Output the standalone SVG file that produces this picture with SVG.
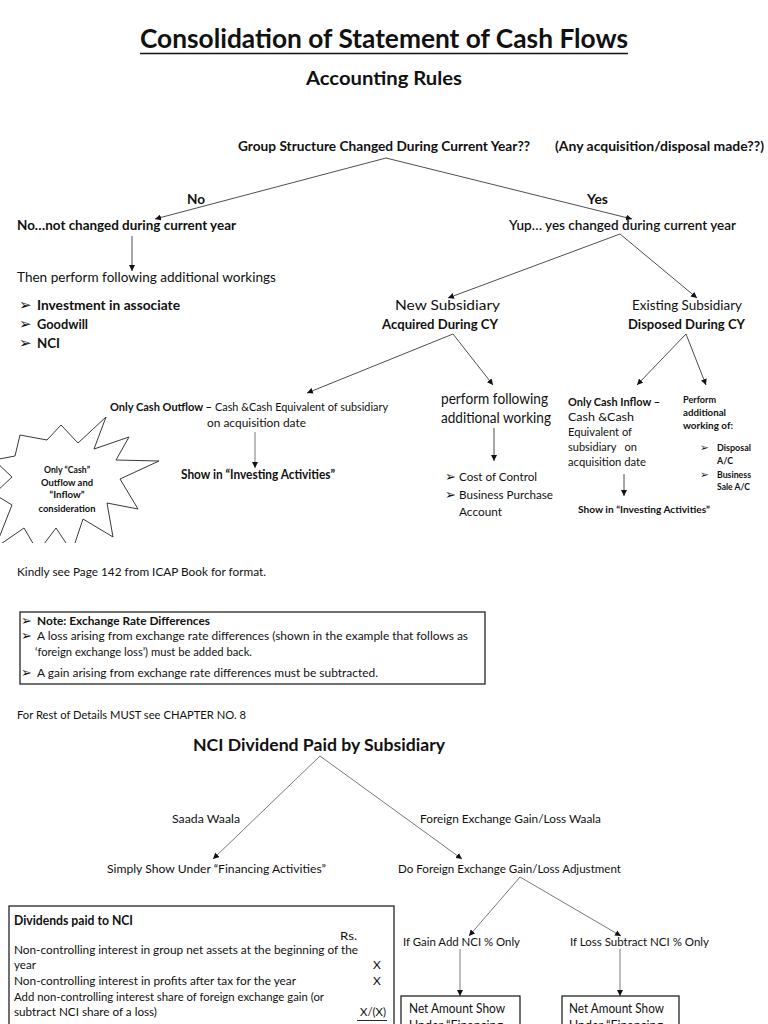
<svg xmlns="http://www.w3.org/2000/svg" width="768" height="1024" viewBox="0 0 768 1024">
<style>
text{font-family:Lato,"Liberation Sans",sans-serif;fill:#111}
.b{font-weight:bold}
.c{stroke:#222;stroke-width:0.8;fill:none;marker-end:url(#ah)}
.g{stroke:#555;stroke-width:0.8;fill:none;marker-end:url(#ah)}
.box{fill:#fff;stroke:#111;stroke-width:1.2}
.bl{font-family:"DejaVu Sans",sans-serif}
</style>
<defs>
<marker id="ah" markerUnits="userSpaceOnUse" markerWidth="7" markerHeight="6" refX="6" refY="3" orient="auto">
<path d="M0,0 L6,3 L0,6 z" fill="#111"/>
</marker>
<clipPath id="starclip"><rect x="0" y="400" width="200" height="143"/></clipPath>
</defs>
<rect width="768" height="1024" fill="#fff"/>

<g id="title">
<text x="384" y="48" text-anchor="middle" class="b" font-size="27" textLength="488" lengthAdjust="spacingAndGlyphs">Consolidation of Statement of Cash Flows</text>
<line x1="140" y1="53.5" x2="628" y2="53.5" stroke="#111" stroke-width="1.6"/>
<text x="384" y="85" text-anchor="middle" class="b" font-size="19.5" textLength="156" lengthAdjust="spacingAndGlyphs">Accounting Rules</text>
</g>

<g id="connectors">
<line class="c" x1="386" y1="158" x2="155" y2="219"/>
<line class="c" x1="386" y1="158" x2="632" y2="219"/>
<line class="c" x1="132" y1="236" x2="132" y2="271"/>
<line class="c" x1="620" y1="234" x2="448" y2="298"/>
<line class="c" x1="620" y1="234" x2="697" y2="298"/>
<line class="c" x1="453" y1="334" x2="307" y2="393"/>
<line class="c" x1="453" y1="334" x2="493" y2="385"/>
<line class="c" x1="686" y1="334" x2="637" y2="385"/>
<line class="c" x1="686" y1="334" x2="706" y2="385"/>
<line class="g" x1="255" y1="432" x2="255" y2="468"/>
<line class="c" x1="494" y1="428" x2="494" y2="461"/>
<line class="c" x1="624" y1="474" x2="624" y2="496"/>
<line class="g" x1="320" y1="756" x2="213" y2="859"/>
<line class="g" x1="320" y1="756" x2="462" y2="859"/>
<line class="g" x1="520" y1="877" x2="469" y2="936"/>
<line class="g" x1="520" y1="877" x2="621" y2="936"/>
<line class="g" x1="460" y1="949" x2="460" y2="996"/>
<line class="g" x1="620" y1="949" x2="620" y2="996"/>
</g>

<g id="question">
<text x="238" y="151" class="b" font-size="13.5" textLength="292" lengthAdjust="spacingAndGlyphs">Group Structure Changed During Current Year??</text>
<text x="555" y="151" class="b" font-size="13.5" textLength="209" lengthAdjust="spacingAndGlyphs">(Any acquisition/disposal made??)</text>
</g>
<g id="label-no"><text x="187" y="204" class="b" font-size="13.5" textLength="18" lengthAdjust="spacingAndGlyphs">No</text></g>
<g id="label-yes"><text x="587" y="204" class="b" font-size="13.5" textLength="21" lengthAdjust="spacingAndGlyphs">Yes</text></g>

<g id="not-changed">
<text x="17" y="230" class="b" font-size="13.5" textLength="219" lengthAdjust="spacingAndGlyphs">No…not changed during current year</text>
</g>
<g id="workings">
<text x="17" y="282" font-size="14" textLength="259" lengthAdjust="spacingAndGlyphs">Then perform following additional workings</text>
<text x="19" y="310" class="bl" font-size="15">➢</text>
<text x="37" y="310" class="b" font-size="13.5" textLength="143" lengthAdjust="spacingAndGlyphs">Investment in associate</text>
<text x="19" y="329" class="bl" font-size="15">➢</text>
<text x="37" y="329" class="b" font-size="13.5" textLength="51" lengthAdjust="spacingAndGlyphs">Goodwill</text>
<text x="19" y="348" class="bl" font-size="15">➢</text>
<text x="37" y="348" class="b" font-size="13.5" textLength="23" lengthAdjust="spacingAndGlyphs">NCI</text>
</g>

<g id="changed">
<text x="509" y="230" font-size="13.5" textLength="227" lengthAdjust="spacingAndGlyphs" font-weight="600">Yup… yes changed during current year</text>
</g>
<g id="new-subsidiary">
<text x="395" y="310" font-size="13.5" textLength="105" lengthAdjust="spacingAndGlyphs">New Subsidiary</text>
<text x="382" y="329" class="b" font-size="13.5" textLength="116" lengthAdjust="spacingAndGlyphs">Acquired During CY</text>
</g>
<g id="existing-subsidiary">
<text x="632" y="310" font-size="13.5" textLength="110" lengthAdjust="spacingAndGlyphs">Existing Subsidiary</text>
<text x="628" y="329" class="b" font-size="13.5" textLength="117" lengthAdjust="spacingAndGlyphs">Disposed During CY</text>
</g>

<g id="cash-outflow">
<text x="110" y="411" class="b" font-size="11.5" textLength="102" lengthAdjust="spacingAndGlyphs">Only Cash Outflow –</text>
<text x="215" y="411" font-size="11" textLength="173" lengthAdjust="spacingAndGlyphs">Cash &amp;Cash Equivalent of subsidiary</text>
<text x="207" y="427" font-size="11" textLength="99" lengthAdjust="spacingAndGlyphs">on acquisition date</text>
</g>
<g id="investing-1">
<text x="181" y="479" class="b" font-size="12.5" textLength="154" lengthAdjust="spacingAndGlyphs">Show in “Investing Activities”</text>
</g>

<g id="perform-following">
<text x="441" y="404" font-size="14.5" textLength="107" lengthAdjust="spacingAndGlyphs">perform following</text>
<text x="441" y="423" font-size="14.5" textLength="110" lengthAdjust="spacingAndGlyphs">additional working</text>
</g>
<g id="cost-of-control">
<text x="445" y="481" class="bl" font-size="13">➢</text>
<text x="459" y="481" font-size="11.5" textLength="78" lengthAdjust="spacingAndGlyphs">Cost of Control</text>
<text x="445" y="499" class="bl" font-size="13">➢</text>
<text x="459" y="499" font-size="11.5" textLength="94" lengthAdjust="spacingAndGlyphs">Business Purchase</text>
<text x="459" y="516" font-size="11.5" textLength="43" lengthAdjust="spacingAndGlyphs">Account</text>
</g>

<g id="cash-inflow">
<text x="568" y="406" class="b" font-size="11" textLength="92" lengthAdjust="spacingAndGlyphs">Only Cash Inflow –</text>
<text x="568" y="421" font-size="11" textLength="66" lengthAdjust="spacingAndGlyphs">Cash &amp;Cash</text>
<text x="568" y="436" font-size="11" textLength="64" lengthAdjust="spacingAndGlyphs">Equivalent of</text>
<text x="568" y="451" font-size="11" textLength="69" lengthAdjust="spacingAndGlyphs" xml:space="preserve">subsidiary   on</text>
<text x="568" y="466" font-size="11" textLength="78" lengthAdjust="spacingAndGlyphs">acquisition date</text>
</g>
<g id="investing-2">
<text x="578" y="513" class="b" font-size="10" textLength="132" lengthAdjust="spacingAndGlyphs">Show in “Investing Activities”</text>
</g>

<g id="perform-additional">
<text x="683" y="403" class="b" font-size="9" textLength="33" lengthAdjust="spacingAndGlyphs">Perform</text>
<text x="683" y="416" class="b" font-size="9" textLength="43" lengthAdjust="spacingAndGlyphs">additional</text>
<text x="683" y="429" class="b" font-size="9" textLength="50" lengthAdjust="spacingAndGlyphs">working of:</text>
<text x="700" y="451" class="bl" font-size="10.5">➢</text>
<text x="717" y="451" class="b" font-size="9" textLength="34" lengthAdjust="spacingAndGlyphs">Disposal</text>
<text x="717" y="464" class="b" font-size="9" textLength="16" lengthAdjust="spacingAndGlyphs">A/C</text>
<text x="700" y="478" class="bl" font-size="10.5">➢</text>
<text x="717" y="478" class="b" font-size="9" textLength="34" lengthAdjust="spacingAndGlyphs">Business</text>
<text x="717" y="490" class="b" font-size="9" textLength="33" lengthAdjust="spacingAndGlyphs">Sale A/C</text>
</g>

<g id="starburst">
<polygon clip-path="url(#starclip)" points="106,417 94,449 129,437 116,460 159,461 120,479 138,509 107,503 113,537 83,519 72,552 56,528 38,552 24,528 -5,548 12,505 -6,494 12,477 -6,460 15,456 20,435 47,440 61,425 78,443" fill="#fff" stroke="#222" stroke-width="0.9"/>
<text x="67" y="473" text-anchor="middle" class="b" font-size="9" textLength="46" lengthAdjust="spacingAndGlyphs">Only “Cash”</text>
<text x="67" y="486" text-anchor="middle" class="b" font-size="9" textLength="52" lengthAdjust="spacingAndGlyphs">Outflow and</text>
<text x="67" y="498" text-anchor="middle" class="b" font-size="9" textLength="35" lengthAdjust="spacingAndGlyphs">“Inflow”</text>
<text x="67" y="512" text-anchor="middle" class="b" font-size="9" textLength="57" lengthAdjust="spacingAndGlyphs">consideration</text>
</g>

<g id="kindly">
<text x="17" y="576" font-size="11.5" textLength="249" lengthAdjust="spacingAndGlyphs">Kindly see Page 142 from ICAP Book for format.</text>
</g>

<g id="note-box">
<rect class="box" x="20" y="612" width="465" height="72"/>
<text x="21" y="625" class="bl" font-size="13">➢</text>
<text x="37" y="625" class="b" font-size="11.5" textLength="173" lengthAdjust="spacingAndGlyphs">Note: Exchange Rate Differences</text>
<text x="21" y="640" class="bl" font-size="13">➢</text>
<text x="37" y="640" font-size="11.5" textLength="431" lengthAdjust="spacingAndGlyphs">A loss arising from exchange rate differences (shown in the example that follows as</text>
<text x="35" y="656" font-size="11.5" textLength="217" lengthAdjust="spacingAndGlyphs">‘foreign exchange loss’) must be added back.</text>
<text x="21" y="677" class="bl" font-size="13">➢</text>
<text x="37" y="677" font-size="11.5" textLength="341" lengthAdjust="spacingAndGlyphs">A gain arising from exchange rate differences must be subtracted.</text>
</g>

<g id="rest-details">
<text x="17" y="719" font-size="11" textLength="229" lengthAdjust="spacingAndGlyphs">For Rest of Details MUST see CHAPTER NO. 8</text>
</g>

<g id="nci-dividend">
<text x="193" y="751" class="b" font-size="17" textLength="252" lengthAdjust="spacingAndGlyphs">NCI Dividend Paid by Subsidiary</text>
</g>
<g id="label-saada"><text x="172" y="823" font-size="11.5" textLength="68" lengthAdjust="spacingAndGlyphs">Saada Waala</text></g>
<g id="label-fx"><text x="420" y="823" font-size="11.5" textLength="181" lengthAdjust="spacingAndGlyphs">Foreign Exchange Gain/Loss Waala</text></g>
<g id="simply-show"><text x="107" y="873" font-size="11.5" textLength="219" lengthAdjust="spacingAndGlyphs">Simply Show Under “Financing Activities”</text></g>
<g id="fx-adjust"><text x="398" y="873" font-size="11.5" textLength="223" lengthAdjust="spacingAndGlyphs">Do Foreign Exchange Gain/Loss Adjustment</text></g>
<g id="if-gain"><text x="403" y="946" font-size="12" textLength="117" lengthAdjust="spacingAndGlyphs">If Gain Add NCI % Only</text></g>
<g id="if-loss"><text x="570" y="946" font-size="12" textLength="139" lengthAdjust="spacingAndGlyphs">If Loss Subtract NCI % Only</text></g>

<g id="dividends-box">
<rect class="box" x="9" y="906" width="385" height="140"/>
<text x="14" y="925" class="b" font-size="13" textLength="119" lengthAdjust="spacingAndGlyphs">Dividends paid to NCI</text>
<text x="340" y="940" font-size="12" textLength="17" lengthAdjust="spacingAndGlyphs">Rs.</text>
<text x="14" y="954" font-size="12" textLength="344" lengthAdjust="spacingAndGlyphs">Non-controlling interest in group net assets at the beginning of the</text>
<text x="14" y="969" font-size="12" textLength="22" lengthAdjust="spacingAndGlyphs">year</text>
<text x="373" y="969" font-size="12">X</text>
<text x="14" y="985" font-size="12" textLength="282" lengthAdjust="spacingAndGlyphs">Non-controlling interest in profits after tax for the year</text>
<text x="373" y="985" font-size="12">X</text>
<text x="14" y="1001" font-size="12" textLength="310" lengthAdjust="spacingAndGlyphs">Add non-controlling interest share of foreign exchange gain (or</text>
<text x="14" y="1016" font-size="12" textLength="143" lengthAdjust="spacingAndGlyphs">subtract NCI share of a loss)</text>
<text x="360" y="1016" font-size="12" textLength="26" lengthAdjust="spacingAndGlyphs">X/(X)</text>
<line x1="357" y1="1020.5" x2="387" y2="1020.5" stroke="#111" stroke-width="0.9"/>
<text x="373" y="1032" font-size="12">X</text>
</g>

<g id="net-gain">
<rect class="box" x="401" y="996" width="119" height="50"/>
<text x="409" y="1013" font-size="13" textLength="96" lengthAdjust="spacingAndGlyphs">Net Amount Show</text>
<text x="409" y="1030" font-size="13" textLength="94" lengthAdjust="spacingAndGlyphs">Under “Financing</text>
</g>
<g id="net-loss">
<rect class="box" x="562" y="996" width="117" height="50"/>
<text x="569" y="1013" font-size="13" textLength="95" lengthAdjust="spacingAndGlyphs">Net Amount Show</text>
<text x="569" y="1030" font-size="13" textLength="94" lengthAdjust="spacingAndGlyphs">Under “Financing</text>
</g>
</svg>
